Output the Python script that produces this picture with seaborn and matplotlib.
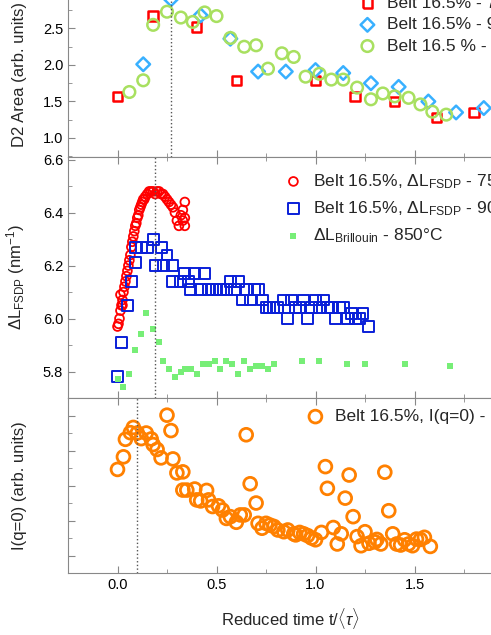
import numpy as np
import pandas as pd
import matplotlib
matplotlib.use("Agg")
import matplotlib.pyplot as plt
from matplotlib.ticker import MultipleLocator, NullFormatter
import seaborn as sns

sns.set_style("white")
plt.rcParams['font.family'] = ['Liberation Sans', 'DejaVu Sans']
plt.rcParams['mathtext.fontset'] = 'custom'
plt.rcParams['mathtext.rm'] = 'Liberation Sans'
plt.rcParams['mathtext.it'] = 'Liberation Sans:italic'

# ---- top panel: D2 area ----
d2_red_x = [0.0, 0.18, 0.40, 0.60, 1.00, 1.20, 1.40, 1.61, 1.80]
d2_red_y = [1.57, 2.67, 2.52, 1.79, 1.79, 1.57, 1.50, 1.28, 1.35]
d2_blue_x = [0.13, 0.27, 0.42, 0.57, 0.71, 0.85, 1.00, 1.14, 1.28, 1.42, 1.57, 1.71, 1.85]
d2_blue_y = [2.01, 2.90, 2.68, 2.36, 1.91, 1.91, 1.93, 1.89, 1.75, 1.70, 1.50, 1.35, 1.41]
d2_green_x = [0.06, 0.13, 0.18, 0.25, 0.32, 0.38, 0.44, 0.50, 0.57, 0.64, 0.70, 0.76, 0.83,
              0.89, 0.95, 1.02, 1.08, 1.14, 1.21, 1.28, 1.34, 1.40, 1.47, 1.53, 1.59, 1.66]
d2_green_y = [1.63, 1.79, 2.55, 2.73, 2.65, 2.59, 2.72, 2.67, 2.37, 2.25, 2.27, 1.95, 2.16,
              2.11, 1.84, 1.88, 1.80, 1.80, 1.69, 1.53, 1.61, 1.57, 1.55, 1.46, 1.36, 1.32]

# ---- middle panel: Delta L FSDP ----
fs_red_x = [0.0, 0.005, 0.01, 0.015, 0.02, 0.025, 0.03, 0.035, 0.04, 0.045, 0.05, 0.055, 0.06,
            0.065, 0.07, 0.075, 0.08, 0.085, 0.09, 0.095, 0.10, 0.105, 0.11, 0.115, 0.12, 0.125,
            0.13, 0.135, 0.14, 0.15, 0.16, 0.17, 0.18, 0.19, 0.20, 0.21, 0.22, 0.23, 0.24, 0.25,
            0.26, 0.27, 0.28, 0.29, 0.30, 0.31, 0.32, 0.33, 0.34, 0.34, 0.34, 0.33, 0.015, 0.025]
fs_red_y = [5.97, 5.98, 6.00, 6.03, 6.05, 6.07, 6.10, 6.12, 6.14, 6.16, 6.18, 6.20, 6.22,
            6.24, 6.27, 6.29, 6.31, 6.33, 6.35, 6.36, 6.38, 6.39, 6.41, 6.42, 6.43, 6.44,
            6.45, 6.45, 6.46, 6.47, 6.48, 6.48, 6.48, 6.47, 6.48, 6.48, 6.47, 6.47, 6.46, 6.45,
            6.44, 6.43, 6.42, 6.40, 6.37, 6.35, 6.39, 6.41, 6.44, 6.38, 6.35, 6.37, 6.09, 6.05]
fs_blue_x = [0.0, 0.02, 0.05, 0.07, 0.09, 0.09, 0.12, 0.15, 0.18, 0.19, 0.22, 0.23, 0.25, 0.28,
             0.28, 0.32, 0.34, 0.36, 0.37, 0.39, 0.42, 0.44, 0.46, 0.48, 0.50, 0.52, 0.55, 0.57,
             0.59, 0.61, 0.63, 0.65, 0.67, 0.69, 0.71, 0.73, 0.75, 0.77, 0.79, 0.81, 0.84, 0.86,
             0.88, 0.90, 0.92, 0.94, 0.96, 0.98, 1.00, 1.02, 1.04, 1.06, 1.08, 1.10, 1.12, 1.14,
             1.16, 1.18, 1.20, 1.22, 1.24, 1.27]
fs_blue_y = [5.78, 5.91, 6.05, 6.14, 6.21, 6.27, 6.27, 6.27, 6.30, 6.20, 6.27, 6.20, 6.24, 6.20,
             6.14, 6.14, 6.17, 6.14, 6.11, 6.17, 6.11, 6.17, 6.11, 6.11, 6.11, 6.11, 6.11, 6.14,
             6.11, 6.14, 6.07, 6.11, 6.07, 6.11, 6.11, 6.07, 6.04, 6.04, 6.04, 6.04, 6.07, 6.00,
             6.07, 6.04, 6.04, 6.07, 6.00, 6.04, 6.07, 6.04, 6.07, 6.04, 6.04, 6.00, 6.04, 6.04,
             6.00, 6.02, 6.00, 6.00, 6.02, 5.97]
br_x = [0.0, 0.03, 0.06, 0.09, 0.12, 0.145, 0.18, 0.21, 0.23, 0.26, 0.29, 0.32, 0.34, 0.37,
        0.40, 0.43, 0.46, 0.49, 0.52, 0.55, 0.58, 0.61, 0.64, 0.67, 0.70, 0.73, 0.76, 0.79,
        0.93, 1.02, 1.16, 1.25, 1.45, 1.68]
br_y = [5.77, 5.74, 5.79, 5.88, 5.94, 6.02, 5.96, 5.91, 5.84, 5.81, 5.78, 5.80, 5.81, 5.81,
        5.79, 5.83, 5.83, 5.84, 5.81, 5.84, 5.83, 5.79, 5.84, 5.81, 5.82, 5.82, 5.81, 5.83,
        5.84, 5.84, 5.83, 5.83, 5.83, 5.82]

# ---- bottom panel: I(q=0) ----
iq_x = [0.0, 0.03, 0.04, 0.065, 0.08, 0.10, 0.12, 0.145, 0.17, 0.18, 0.20, 0.22, 0.25, 0.27,
        0.28, 0.30, 0.33, 0.33, 0.35, 0.39, 0.40, 0.42, 0.45, 0.46, 0.48, 0.51, 0.53, 0.55,
        0.57, 0.60, 0.62, 0.64, 0.65, 0.67, 0.70, 0.71, 0.73, 0.75, 0.77, 0.79, 0.81, 0.84,
        0.86, 0.89, 0.90, 0.92, 0.94, 0.96, 0.98, 1.00, 1.03, 1.05, 1.06, 1.09, 1.11, 1.13,
        1.15, 1.17, 1.19, 1.21, 1.23, 1.25, 1.27, 1.30, 1.31, 1.33, 1.35, 1.37, 1.39, 1.41,
        1.43, 1.45, 1.47, 1.49, 1.51, 1.53, 1.55, 1.58]
iq_y = [2.96, 3.32, 3.82, 4.01, 4.16, 4.00, 3.84, 4.00, 3.83, 3.67, 3.53, 3.29, 4.51, 4.07,
        3.26, 2.86, 2.89, 2.37, 2.37, 2.40, 2.09, 2.06, 2.36, 2.09, 1.90, 1.92, 1.80, 1.56,
        1.61, 1.45, 1.66, 1.66, 3.95, 2.55, 2.00, 1.42, 1.28, 1.42, 1.37, 1.33, 1.23, 1.18,
        1.23, 1.12, 1.09, 1.16, 1.12, 1.07, 1.00, 0.95, 1.16, 3.04, 2.42, 1.30, 0.83, 1.12,
        2.14, 2.80, 1.61, 1.04, 0.78, 1.18, 0.85, 0.89, 0.96, 0.83, 2.88, 1.78, 1.12, 0.83,
        0.80, 0.95, 0.83, 0.78, 0.97, 0.96, 1.02, 0.76]

fig = plt.figure(figsize=(4.91, 6.35), dpi=100)
L, R = 68 / 491, 2.25 * 198 / 491
ax1 = fig.add_axes([L, 0.7528, R, 0.2598])
ax2 = fig.add_axes([L, 0.3732, R, 0.3796])
ax3 = fig.add_axes([L, 0.0976, R, 0.2756])

def sc(ax, x, y, marker, color, s, lw, label, filled=False):
    df = pd.DataFrame({'x': x, 'y': y})
    if filled:
        sns.scatterplot(data=df, x='x', y='y', ax=ax, marker=marker, color=color, s=s,
                        edgecolor=color, linewidth=0, label=label)
    else:
        sns.scatterplot(data=df, x='x', y='y', ax=ax, marker=marker, s=s, facecolor='none',
                        edgecolor=color, linewidth=lw, label=label)

sc(ax1, d2_red_x, d2_red_y, 's', '#ff0000', 45, 1.8, 'Belt 16.5% - 750°C')
sc(ax1, d2_blue_x, d2_blue_y, 'D', '#38b0ff', 48, 1.8, 'Belt 16.5% - 900°C')
sc(ax1, d2_green_x, d2_green_y, 'o', '#a8e060', 70, 1.8, 'Belt 16.5 % - 850°C')
sc(ax2, fs_red_x, fs_red_y, 'o', '#ff0000', 40, 1.3, r'Belt 16.5%, $\Delta\mathrm{L}_{\mathrm{FSDP}}$ - 750°C')
sc(ax2, fs_blue_x, fs_blue_y, 's', '#0a1fd8', 62, 1.4, r'Belt 16.5%, $\Delta\mathrm{L}_{\mathrm{FSDP}}$ - 900°C')
sc(ax2, br_x, br_y, 's', '#77ee77', 20, 0, r'$\Delta\mathrm{L}_{\mathrm{Brillouin}}$ - 850°C', filled=True)
sc(ax3, iq_x, iq_y, 'o', '#ff8000', 85, 2.0, 'Belt 16.5%, I(q=0) - 850°C')

ax1.set_ylim(0.74, 3.0)
ax2.set_ylim(5.70, 6.61)
ax3.set_ylim(0, 5)
ax1.axvline(0.27, color='#555555', ls=':', lw=1)
ax2.axvline(0.187, color='#555555', ls=':', lw=1)
ax3.axvline(0.097, color='#555555', ls=':', lw=1)

for ax in (ax1, ax2, ax3):
    ax.set_xlim(-0.25, 2.0)
    ax.xaxis.set_major_locator(MultipleLocator(0.5))
    ax.xaxis.set_minor_locator(MultipleLocator(0.25))
    ax.tick_params(which='both', direction='in', top=True, bottom=True, left=True,
                   colors='#888888', labelcolor='black', labelsize=10.5)
    ax.tick_params(which='major', length=5)
    ax.tick_params(which='minor', length=3)
    for sp in ax.spines.values():
        sp.set_color('#888888')
    ax.set_xlabel('')
    ax.yaxis.set_label_coords(-(68 - 27) / (R * 491), 0.5)
ax1.yaxis.set_major_locator(MultipleLocator(0.5))
ax1.yaxis.set_minor_locator(MultipleLocator(0.25))
ax2.yaxis.set_major_locator(MultipleLocator(0.2))
ax2.yaxis.set_minor_locator(MultipleLocator(0.1))
ax3.yaxis.set_minor_locator(MultipleLocator(0.5))
ax3.set_yticks([0.5, 1.5, 2.5, 3.5, 4.5])
ax3.yaxis.set_major_formatter(NullFormatter())
ax1.xaxis.set_major_formatter(NullFormatter())
ax2.xaxis.set_major_formatter(NullFormatter())

ax1.set_ylabel('D2 Area (arb. units)', fontsize=12)
ax2.set_ylabel(r'$\Delta\mathrm{L}_{\mathrm{FSDP}}$ (nm$^{-1}$)', fontsize=12)
ax3.set_ylabel('I(q=0) (arb. units)', fontsize=12)
ax3.set_xlabel(r'Reduced time t/$\langle\tau\rangle$', fontsize=12, labelpad=10)

def leg(ax, x0, y0, sp):
    ax.legend(loc='upper left', bbox_to_anchor=(x0, y0), bbox_transform=fig.transFigure,
              frameon=False, fontsize=12.5, handletextpad=0.5, borderaxespad=0,
              borderpad=0, labelspacing=sp, handlelength=1.2)

leg(ax1, 357 / 491, 1 - (-4) / 635, 0.35)
leg(ax2, 283 / 491, 1 - 172 / 635, 0.5)
leg(ax3, 305 / 491, 1 - 409 / 635, 0.5)

fig.savefig('out.png', dpi=100)
